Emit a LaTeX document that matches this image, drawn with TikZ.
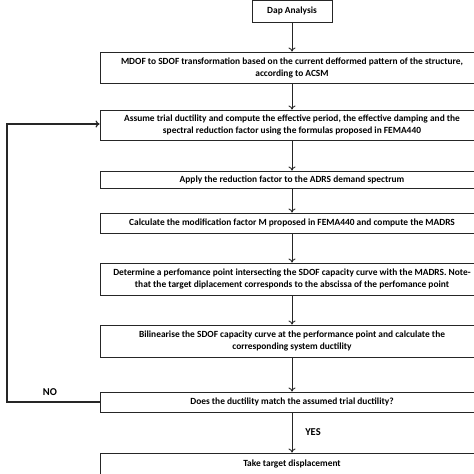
\documentclass[tikz,border=0pt]{standalone}
\usepackage{fontspec}
\setmainfont{Carlito}
\usetikzlibrary{arrows.meta}
\begin{document}
\begin{tikzpicture}[x=1pt,y=-1pt,
  box/.style={draw=black!85, line width=0.9pt, inner sep=0pt, align=center,
    font=\bfseries\fontsize{9.4}{12}\selectfont},
  arr/.style={draw=black!85, line width=0.9pt, -{To[length=4pt,width=7pt]}},
  lbl/.style={font=\bfseries\fontsize{10.5}{12}\selectfont}]
\clip (0,0) rectangle (474,474);
\fill[white] (0,0) rectangle (474,474);
\node[box, minimum width=80pt, minimum height=22pt] (dap) at (292,11) {Dap Analysis};
\node[box, minimum width=384pt, minimum height=31pt] (mdof) at (292,67.5) {MDOF to SDOF transformation based on the current defformed pattern of the structure,\\according to ACSM};
\node[box, minimum width=384pt, minimum height=30pt] (assume) at (292,125) {Assume trial ductility and compute the effective period, the effective damping and the\\spectral reduction factor using the formulas proposed in FEMA440};
\node[box, minimum width=384pt, minimum height=17pt] (apply) at (292,179.5) {Apply the reduction factor to the ADRS demand spectrum};
\node[box, minimum width=384pt, minimum height=20pt] (calc) at (292,223) {Calculate the modification factor M proposed in FEMA440 and compute the MADRS};
\node[box, minimum width=384pt, minimum height=32pt] (det) at (292,279) {Determine a perfomance point intersecting the SDOF capacity curve with the MADRS. Note-\\that the target diplacement corresponds to the abscissa of the perfomance point};
\node[box, minimum width=384pt, minimum height=32pt] (bil) at (292,341) {Bilinearise the SDOF capacity curve at the performance point and calculate the\\corresponding system ductility};
\node[box, minimum width=384pt, minimum height=20pt] (does) at (292,402) {Does the ductility match the assumed trial ductility?};
\node[box, minimum width=384pt, minimum height=22pt] (take) at (292,464) {Take target displacement};
\coordinate (lb) at (7,402);
\coordinate (lt) at (7,124);
\draw[arr] (dap) -- (mdof);
\draw[arr] (mdof) -- (assume);
\draw[arr] (assume) -- (apply);
\draw[arr] (apply) -- (calc);
\draw[arr] (calc) -- (det);
\draw[arr] (det) -- (bil);
\draw[arr] (bil) -- (does);
\draw[arr] (does) -- (take);
\draw[arr, line width=1.2pt] (does.west) -- (lb) -- (lt) -- (assume.west |- lt);
\node[lbl] (no) at (50,392) {NO};
\node[lbl] (yes) at (313,432) {YES};
\end{tikzpicture}
\end{document}
